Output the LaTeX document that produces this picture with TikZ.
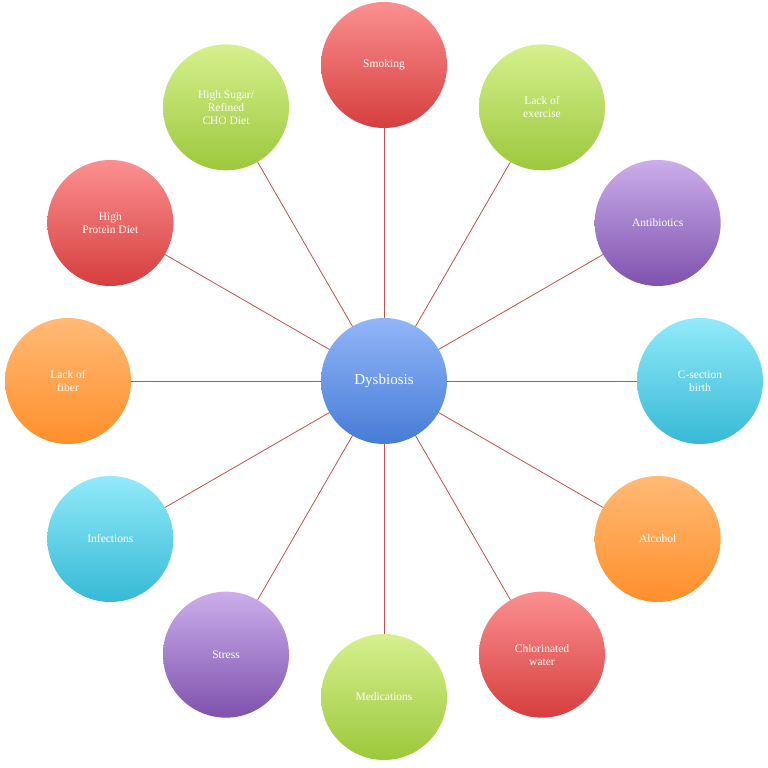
\documentclass[tikz,border=0pt]{standalone}
\usepackage{fontspec}
\setmainfont{Liberation Serif}
\usetikzlibrary{shadings,calc}
\definecolor{rT}{HTML}{FB9090}\definecolor{rB}{HTML}{D63E3E}
\definecolor{gT}{HTML}{D6F08E}\definecolor{gB}{HTML}{9CC83C}
\definecolor{pT}{HTML}{CBAEEA}\definecolor{pB}{HTML}{7E52AE}
\definecolor{cT}{HTML}{92EAFA}\definecolor{cB}{HTML}{36B9D6}
\definecolor{oT}{HTML}{FFBA76}\definecolor{oB}{HTML}{FF8F2A}
\definecolor{bT}{HTML}{92B6F8}\definecolor{bB}{HTML}{457CD6}
\definecolor{ln}{HTML}{C0504D}
\tikzset{
  ball/.style={circle, minimum size=126pt, inner sep=0pt, text=white, align=center, font=\fontsize{11.5}{13}\selectfont},
  cr/.style={ball, top color=rT, bottom color=rB},
  cg/.style={ball, top color=gT, bottom color=gB},
  cp/.style={ball, top color=pT, bottom color=pB},
  cc/.style={ball, top color=cT, bottom color=cB},
  co/.style={ball, top color=oT, bottom color=oB},
  cb/.style={ball, top color=bT, bottom color=bB, font=\fontsize{15}{17}\selectfont},
  conn/.style={draw=ln, line width=0.8pt}
}
\begin{document}
\begin{tikzpicture}[x=1pt,y=1pt]
\useasboundingbox (0,0) rectangle (768,768);
\coordinate (c) at (384,387);
\foreach \n/\a in {s/90,e/60,a/30,cs/0,al/-30,cw/-60,m/-90,st/-120,i/-150,f/180,p/150,h/120}{
  \coordinate (\n) at ($(c)+(\a:316)$);
}
\draw[conn] (c) -- (s); \draw[conn] (c) -- (e); \draw[conn] (c) -- (a);
\draw[conn] (c) -- (cs); \draw[conn] (c) -- (al); \draw[conn] (c) -- (cw);
\draw[conn] (c) -- (m); \draw[conn] (c) -- (st); \draw[conn] (c) -- (i);
\draw[conn] (c) -- (f); \draw[conn] (c) -- (p); \draw[conn] (c) -- (h);
\node[cb] (nc) at (c) {Dysbiosis};
\node[cr] (ns) at (s) {Smoking};
\node[cg] (ne) at (e) {Lack of\\exercise};
\node[cp] (na) at (a) {Antibiotics};
\node[cc] (ncs) at (cs) {C-section\\birth};
\node[co] (nal) at (al) {Alcohol};
\node[cr] (ncw) at (cw) {Chlorinated\\water};
\node[cg] (nm) at (m) {Medications};
\node[cp] (nst) at (st) {Stress};
\node[cc] (ni) at (i) {Infections};
\node[co] (nf) at (f) {Lack of\\fiber};
\node[cr] (np) at (p) {High\\Protein Diet};
\node[cg] (nh) at (h) {High Sugar/\\Refined\\CHO Diet};
\end{tikzpicture}
\end{document}
